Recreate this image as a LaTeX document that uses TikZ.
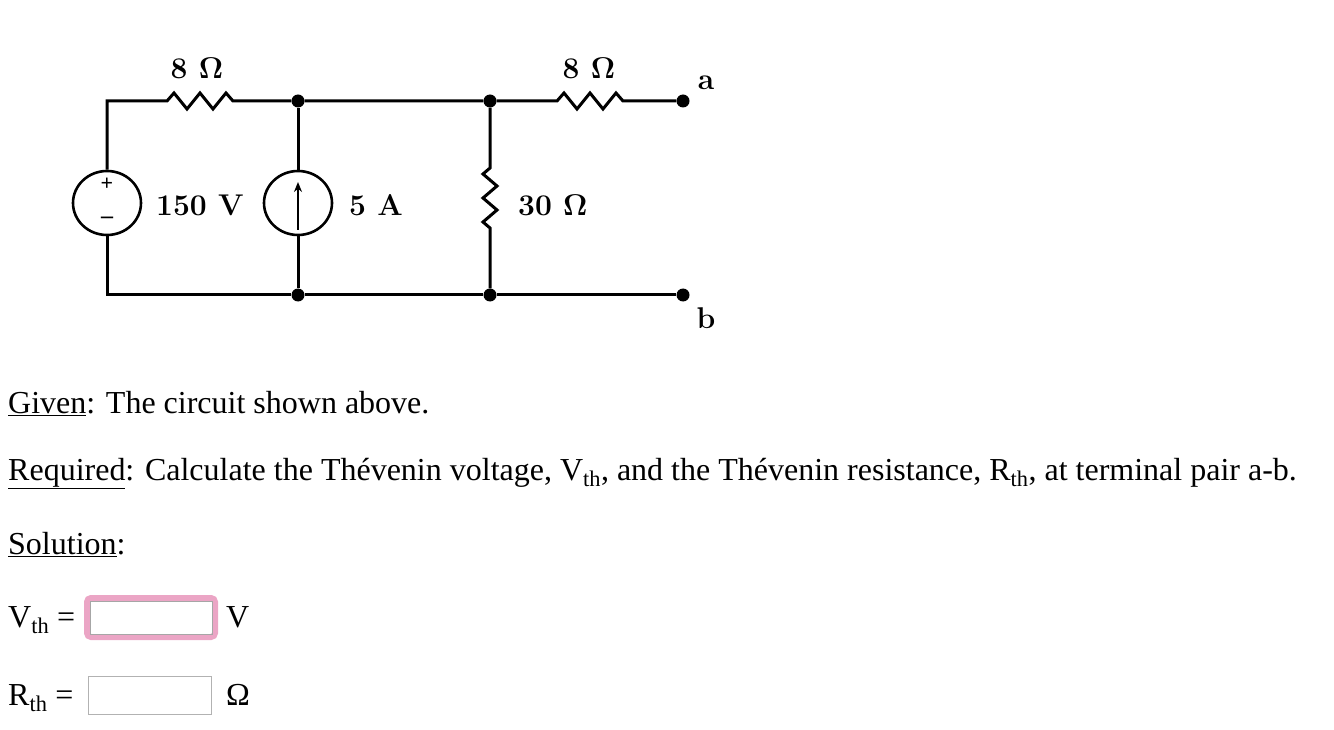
\documentclass[tikz,border=0pt]{standalone}
\usepackage{fontspec}
\setmainfont{Liberation Serif}
\newfontfamily\circfont{Latin Modern Roman}
\usetikzlibrary{shapes.geometric,arrows.meta}
\tikzset{
 wire/.style={line width=3pt,line join=miter},
 dot/.style={circle,fill=black,inner sep=0pt,minimum size=13pt},
 src/.style={ellipse,draw,line width=2.6pt,minimum width=68pt,minimum height=64pt,inner sep=0pt},
 clab/.style={font=\circfont\bfseries\fontsize{30}{32}\selectfont,inner sep=0pt},
 txt/.style={font=\fontsize{32}{36}\selectfont,anchor=base west,inner sep=0pt},
}
\newcommand{\zig}[1]{-- ++(4,0) -- ++(7,#1) -- ++(13,-2*#1) -- ++(13,2*#1) -- ++(13,-2*#1) -- ++(13,2*#1) -- ++(7,-#1)}
\begin{document}
\begin{tikzpicture}[x=1pt,y=-1pt]
\useasboundingbox (0,0) rectangle (1334,730);
\node[src] (vs) at (107,203) {};
\node[font=\bfseries\fontsize{22}{22}\selectfont] at (107,184) {+};
\node[font=\bfseries\fontsize{24}{24}\selectfont] at (107,220) {--};
\node[src] (is) at (298,203) {};
\draw[line width=2.4pt,-{Stealth[length=10pt,width=8pt]}] (298,230) -- (298,182);
\node[dot] (n1) at (298,101) {};
\node[dot] (n2) at (490,101) {};
\node[dot] (n3) at (298,295) {};
\node[dot] (n4) at (490,295) {};
\node[dot] (ta) at (683,101) {};
\node[dot] (tb) at (683,295) {};
\coordinate (tl) at (107,101);
\coordinate (bl) at (107,295);
\draw[wire] (vs.north) -- (tl) -- (163,101) \zig{-8} -- (n1) -- (n2) -- (553,101) \zig{-8} -- (ta);
\draw[wire] (vs.south) -- (bl) -- (n3) -- (n4) -- (tb);
\draw[wire] (n1) -- (is.north);
\draw[wire] (is.south) -- (n3);
\draw[wire] (n2) -- (490,164) -- ++(0,4) -- ++(-7,6) -- ++(14,12) -- ++(-14,12) -- ++(14,12) -- ++(-14,12) -- ++(7,6) -- (490,240) -- (n4);
\node[clab] at (197,68) {8 Ω};
\node[clab] at (589,68) {8 Ω};
\node[clab,anchor=west] at (156,205) {150 V};
\node[clab,anchor=west] at (349,205) {5 A};
\node[clab,anchor=west] at (518,205) {30 Ω};
\node[clab] at (706,83) {a};
\node[clab] at (706,318) {b};
\node[txt] (g) at (8,413) {\underline{Given}: The circuit shown above.};
\node[txt] (r) at (8,480) {\underline{Required}: Calculate the Thévenin voltage, V\textsubscript{th}, and the Thévenin resistance, R\textsubscript{th}, at terminal pair a-b.};
\node[txt] (s) at (8,554) {\underline{Solution}:};
\node[txt] (vl) at (8,627) {V\textsubscript{th} =};
\draw[line width=6pt,draw={rgb,255:red,235;green,165;blue,197},rounded corners=4pt] (87,598) rectangle (215,637);
\draw[line width=0.6pt,gray!70] (90,601) rectangle (212,634);
\node[txt] (vu) at (226,627) {V};
\node[txt] (rl) at (8,705) {R\textsubscript{th} =};
\draw[line width=0.8pt,gray!60] (88,676) rectangle (211,714);
\node[txt] (ru) at (226,705) {Ω};
\end{tikzpicture}
\end{document}
